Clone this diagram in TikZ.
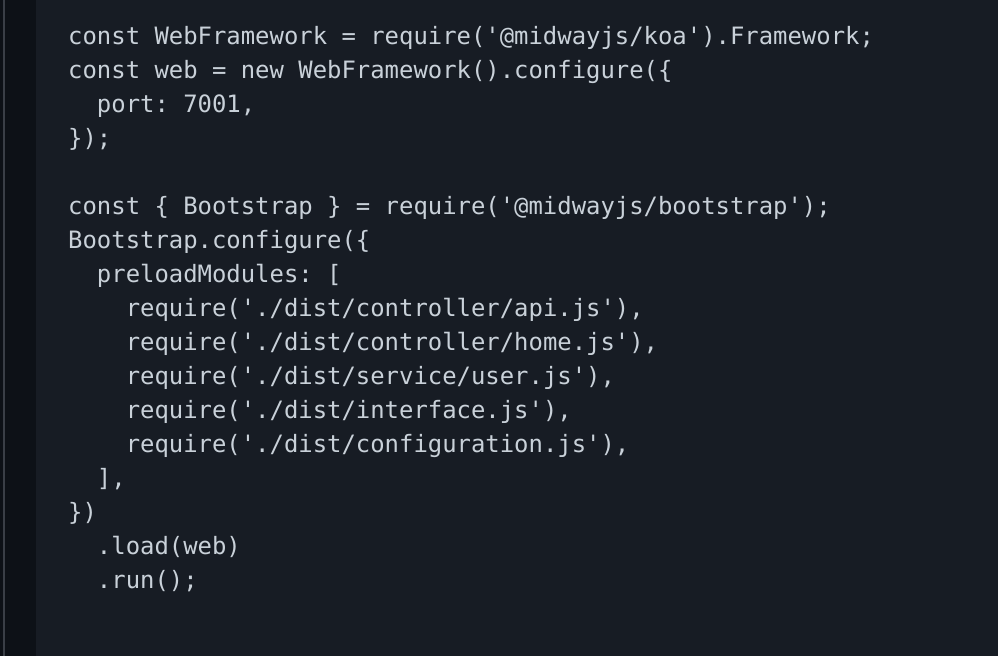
\documentclass[tikz,border=0pt]{standalone}
\usepackage{fontspec}
\setmonofont{DejaVu Sans Mono}
\definecolor{bg}{HTML}{171C24}
\definecolor{strip}{HTML}{0D1117}
\definecolor{txt}{HTML}{C9D1D9}
\definecolor{edge}{HTML}{3A3F47}
\begin{document}
\begin{tikzpicture}[x=1pt,y=-1pt,code/.style={anchor=base west,inner sep=0pt,text=txt,font=\ttfamily\fontsize{23.9}{34}\selectfont}]
\useasboundingbox (0,0) rectangle (998,656);
\fill[bg] (0,0) rectangle (998,656);
\fill[strip] (0,0) rectangle (36,656);
\draw[edge,line width=1.5] (4,0) -- (4,656);
\foreach \t [count=\i] in {
{const WebFramework = require('@midwayjs/koa').Framework;},
{const web = new WebFramework().configure(\{},
{\ \ port: 7001,},
{\});},
{},
{const \{ Bootstrap \} = require('@midwayjs/bootstrap');},
{Bootstrap.configure(\{},
{\ \ preloadModules: [},
{\ \ \ \ require('./dist/controller/api.js'),},
{\ \ \ \ require('./dist/controller/home.js'),},
{\ \ \ \ require('./dist/service/user.js'),},
{\ \ \ \ require('./dist/interface.js'),},
{\ \ \ \ require('./dist/configuration.js'),},
{\ \ ],},
{\})},
{\ \ .load(web)},
{\ \ .run();}}
  \node[code] (l\i) at (68,{10+34*\i}) {\t};
\end{tikzpicture}
\end{document}
